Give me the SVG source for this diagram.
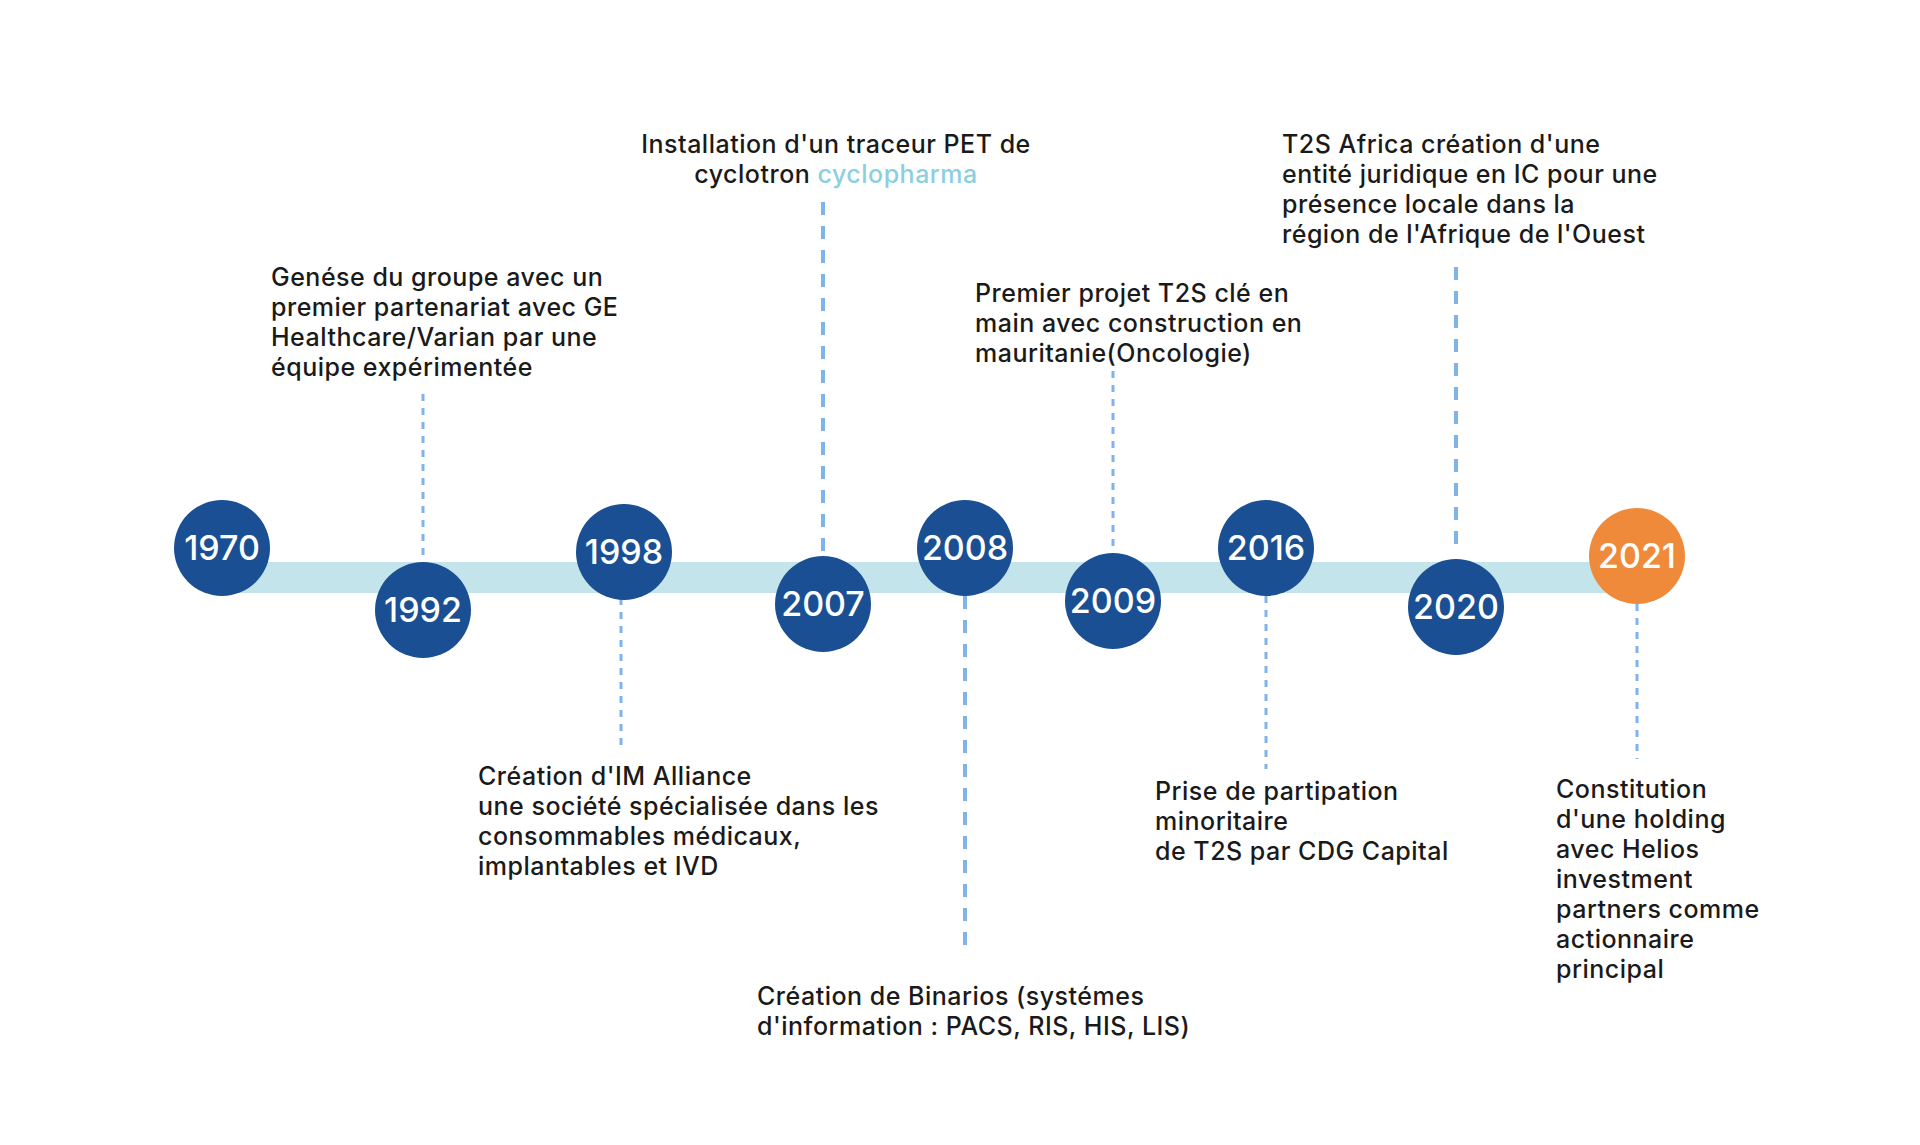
<svg xmlns="http://www.w3.org/2000/svg" width="1920" height="1145" viewBox="0 0 1920 1145">
<style>
.t{font-family:Inter,"Open Sans","Liberation Sans",sans-serif;font-size:25px;letter-spacing:0.5px;font-weight:500;fill:#1a1a1a}
.y{font-family:Inter,"Open Sans","Liberation Sans",sans-serif;font-size:34px;font-weight:500;fill:#fff;text-anchor:middle}
.c{fill:#1b4f93}
.d{stroke:#7fb3ea;stroke-width:3;stroke-dasharray:7 7;fill:none}
.D{stroke:#7fb3ea;stroke-width:4;stroke-dasharray:13 11;fill:none}
</style>
<rect width="1920" height="1145" fill="#fff"/>
<rect x="222" y="562" width="1415" height="31" fill="#c2e4ea"/>
<g id="connectors">
<line class="d" x1="423" y1="394" x2="423" y2="562"/>
<line class="D" x1="823" y1="202" x2="823" y2="551"/>
<line class="d" x1="1113" y1="371" x2="1113" y2="553"/>
<line class="D" x1="1456" y1="267" x2="1456" y2="555"/>
<line class="d" x1="621" y1="598" x2="621" y2="747"/>
<line class="D" x1="965" y1="596" x2="965" y2="949"/>
<line class="d" x1="1266" y1="596" x2="1266" y2="769"/>
<line class="d" x1="1637" y1="604" x2="1637" y2="759"/>
</g>
<g id="n1970"><circle class="c" cx="222" cy="548" r="48"/><text class="y" x="222" y="560">1970</text></g>
<g id="n1992"><circle class="c" cx="423" cy="610" r="48"/><text class="y" x="423" y="622">1992</text>
<text class="t" x="271" y="286">Genése du groupe avec un</text><text class="t" x="271" y="316">premier partenariat avec GE</text><text class="t" x="271" y="346">Healthcare/Varian par une</text><text class="t" x="271" y="376">équipe expérimentée</text></g>
<g id="n1998"><circle class="c" cx="624" cy="552" r="48"/><text class="y" x="624" y="564">1998</text>
<text class="t" x="478" y="785">Création d'IM Alliance</text><text class="t" x="478" y="815">une société spécialisée dans les</text><text class="t" x="478" y="845">consommables médicaux,</text><text class="t" x="478" y="875">implantables et IVD</text></g>
<g id="n2007"><circle class="c" cx="823" cy="604" r="48"/><text class="y" x="823" y="616">2007</text>
<text class="t" x="836" y="153" text-anchor="middle">Installation d'un traceur PET de</text><text class="t" x="836" y="183" text-anchor="middle">cyclotron <tspan fill="#8ccfe0">cyclopharma</tspan></text></g>
<g id="n2008"><circle class="c" cx="965" cy="548" r="48"/><text class="y" x="965" y="560">2008</text>
<text class="t" x="757" y="1005">Création de Binarios (systémes</text><text class="t" x="757" y="1035">d'information : PACS, RIS, HIS, LIS)</text></g>
<g id="n2009"><circle class="c" cx="1113" cy="601" r="48"/><text class="y" x="1113" y="613">2009</text>
<text class="t" x="975" y="302">Premier projet T2S clé en</text><text class="t" x="975" y="332">main avec construction en</text><text class="t" x="975" y="362">mauritanie(Oncologie)</text></g>
<g id="n2016"><circle class="c" cx="1266" cy="548" r="48"/><text class="y" x="1266" y="560">2016</text>
<text class="t" x="1155" y="800">Prise de partipation</text><text class="t" x="1155" y="830">minoritaire</text><text class="t" x="1155" y="860">de T2S par CDG Capital</text></g>
<g id="n2020"><circle class="c" cx="1456" cy="607" r="48"/><text class="y" x="1456" y="619">2020</text>
<text class="t" x="1282" y="153">T2S Africa création d'une</text><text class="t" x="1282" y="183">entité juridique en IC pour une</text><text class="t" x="1282" y="213">présence locale dans la</text><text class="t" x="1282" y="243">région de l'Afrique de l'Ouest</text></g>
<g id="n2021"><circle cx="1637" cy="556" r="48" fill="#f08a3b"/><text class="y" x="1637" y="568">2021</text>
<text class="t" x="1556" y="798">Constitution</text><text class="t" x="1556" y="828">d'une holding</text><text class="t" x="1556" y="858">avec Helios</text><text class="t" x="1556" y="888">investment</text><text class="t" x="1556" y="918">partners comme</text><text class="t" x="1556" y="948">actionnaire</text><text class="t" x="1556" y="978">principal</text></g>
</svg>
